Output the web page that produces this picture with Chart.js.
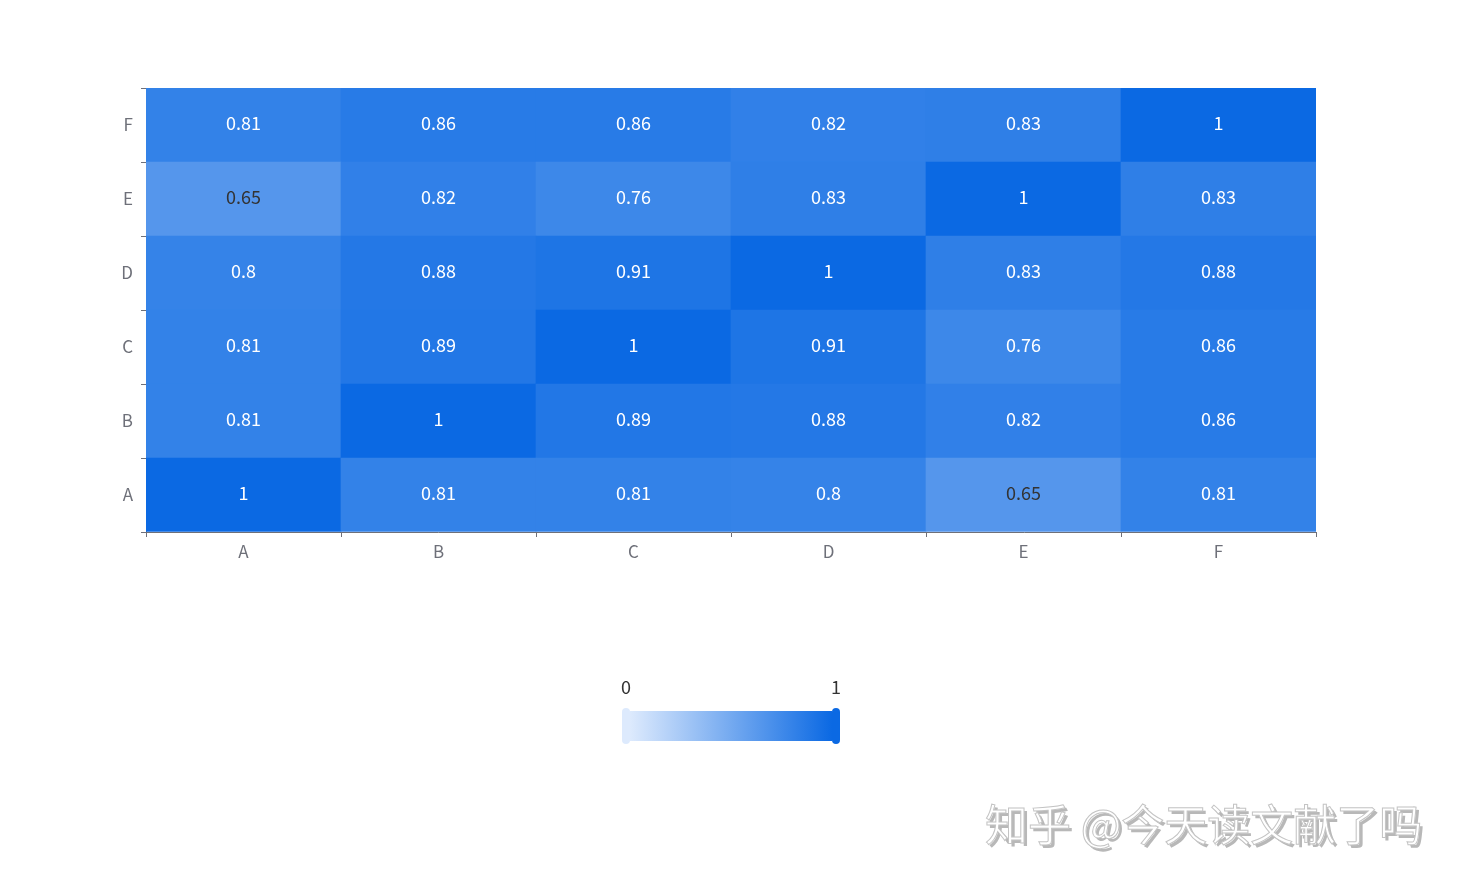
<!DOCTYPE html>
<html>
<head>
<meta charset="utf-8">
<script src="https://cdn.jsdelivr.net/npm/chart.js@4.4.0/dist/chart.umd.min.js"></script>
<style>
  html, body { margin: 0; padding: 0; background: #fff; }
  #wrap { width: 1462px; height: 886px; }
</style>
</head>
<body>
<div id="wrap"><canvas id="heat" width="1462" height="886"></canvas></div>
<script>
// categories
const xLabels = ['A', 'B', 'C', 'D', 'E', 'F'];
const yLabels = ['A', 'B', 'C', 'D', 'E', 'F'];

// correlation values, one array per y row (bottom to top)
const rowA = [1, 0.81, 0.81, 0.8, 0.65, 0.81];
const rowB = [0.81, 1, 0.89, 0.88, 0.82, 0.86];
const rowC = [0.81, 0.89, 1, 0.91, 0.76, 0.86];
const rowD = [0.8, 0.88, 0.91, 1, 0.83, 0.88];
const rowE = [0.65, 0.82, 0.76, 0.83, 1, 0.83];
const rowF = [0.81, 0.86, 0.86, 0.82, 0.83, 1];
const rows = [rowA, rowB, rowC, rowD, rowE, rowF];

// visual map range
const mapMin = 0;
const mapMax = 1;
const lowColor = [221, 234, 253];
const highColor = [11, 105, 227];

const axisColor = '#6e7079';
const fontFamily = '"Noto Sans CJK SC", "Noto Sans", sans-serif';

function colorFor(v) {
    const t = (v - mapMin) / (mapMax - mapMin);
    const c = lowColor.map((lo, i) => Math.round(lo + (highColor[i] - lo) * t));
    return `rgb(${c[0]}, ${c[1]}, ${c[2]})`;
}

const datasets = rows.map((row, r) => ({
    label: yLabels[r],
    data: row.map(() => [r, r + 1]),
    values: row,
    backgroundColor: row.map(v => colorFor(v)),
    borderWidth: 0,
    borderSkipped: false,
    barPercentage: 1,
    categoryPercentage: 1,
    grouped: false
}));

// text in the middle of every cell
const cellLabels = {
    id: 'cellLabels',
    afterDatasetsDraw(chart) {
        const ctx = chart.ctx;
        ctx.save();
        ctx.font = `18px ${fontFamily}`;
        ctx.textAlign = 'center';
        ctx.textBaseline = 'middle';
        chart.data.datasets.forEach((ds, di) => {
            chart.getDatasetMeta(di).data.forEach((bar, i) => {
                const v = ds.values[i];
                ctx.fillStyle = v < 0.7 ? '#333' : '#fff';
                ctx.fillText(String(v), bar.x, (bar.y + bar.base) / 2 - 2);
            });
        });
        ctx.restore();
    }
};

// continuous visual map below the grid + watermark
const visualMap = {
    id: 'visualMap',
    afterDraw(chart) {
        const ctx = chart.ctx;
        const left = 630, right = 832, top = 711, bottom = 741;
        ctx.save();
        const grad = ctx.createLinearGradient(left, 0, right, 0);
        grad.addColorStop(0, colorFor(mapMin));
        grad.addColorStop(1, colorFor(mapMax));
        ctx.fillStyle = grad;
        ctx.fillRect(left, top, right - left, bottom - top);

        // handles
        const handle = (x, color) => {
            ctx.fillStyle = color;
            ctx.beginPath();
            ctx.roundRect(x - 4, top - 3, 8, bottom - top + 6, 4);
            ctx.fill();
        };
        handle(626, colorFor(mapMin));
        handle(836, colorFor(mapMax));

        ctx.fillStyle = '#333';
        ctx.font = `18px ${fontFamily}`;
        ctx.textAlign = 'center';
        ctx.textBaseline = 'middle';
        ctx.fillText(String(mapMin), 626, 687);
        ctx.fillText(String(mapMax), 836, 687);

        // watermark
        const mark = '知乎 @今天读文献了吗';
        ctx.font = `43px ${fontFamily}`;
        ctx.textAlign = 'left';
        ctx.textBaseline = 'middle';
        ctx.fillStyle = '#b8b8b8';
        ctx.fillText(mark, 988, 828);
        ctx.fillStyle = '#ffffff';
        ctx.strokeStyle = '#c4c4c4';
        ctx.lineWidth = 1;
        ctx.fillText(mark, 985, 825);
        ctx.strokeText(mark, 985, 825);
        ctx.restore();
    }
};

new Chart(document.getElementById('heat').getContext('2d'), {
    type: 'bar',
    data: {
        labels: xLabels,
        datasets: datasets
    },
    options: {
        responsive: false,
        animation: false,
        layout: {
            padding: { left: 0, top: 88, right: 146, bottom: 314 }
        },
        plugins: {
            legend: { display: false },
            tooltip: { enabled: false }
        },
        scales: {
            x: {
                type: 'category',
                offset: true,
                afterFit(scale) { scale.height = 40; },
                border: { display: true, color: axisColor, width: 1 },
                grid: {
                    offset: true,
                    drawOnChartArea: false,
                    drawTicks: true,
                    tickLength: 5,
                    color: axisColor
                },
                ticks: {
                    color: axisColor,
                    padding: 4,
                    font: { family: fontFamily, size: 17 }
                }
            },
            y: {
                type: 'linear',
                min: 0,
                max: 6,
                afterFit(scale) { scale.width = 146; },
                afterBuildTicks(scale) {
                    const t = [];
                    for (let i = 0; i <= 12; i++) t.push({ value: i / 2 });
                    scale.ticks = t;
                },
                border: { display: true, color: axisColor, width: 1 },
                grid: {
                    drawOnChartArea: false,
                    drawTicks: true,
                    tickLength: 5,
                    color: ctx => (ctx.tick && ctx.tick.value % 1 === 0) ? axisColor : 'rgba(0,0,0,0)'
                },
                ticks: {
                    autoSkip: false,
                    color: axisColor,
                    padding: 8,
                    font: { family: fontFamily, size: 17 },
                    callback: value => (value % 1 === 0.5) ? yLabels[Math.floor(value)] : ''
                }
            }
        }
    },
    plugins: [cellLabels, visualMap]
});
</script>
</body>
</html>
